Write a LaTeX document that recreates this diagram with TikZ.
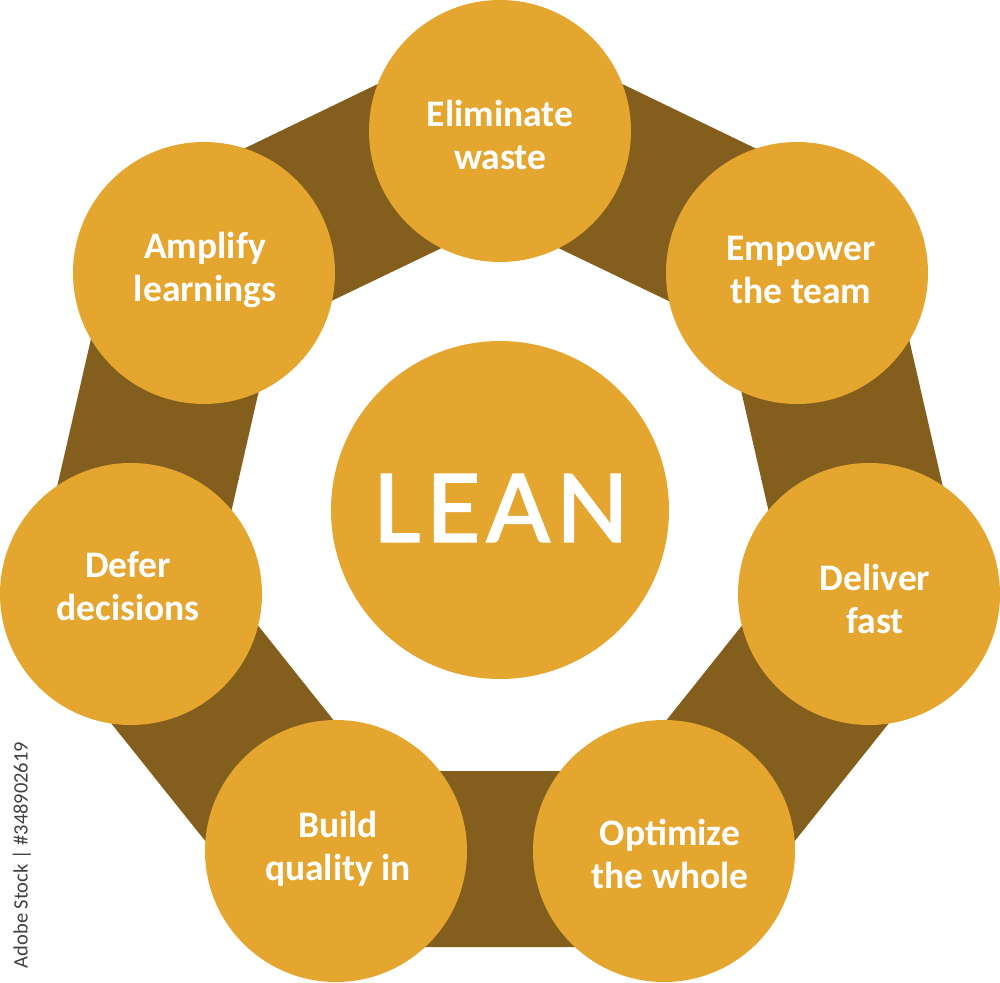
\documentclass[tikz,border=0pt]{standalone}
\usepackage{fontspec}
\setmainfont{Carlito}
\definecolor{gold}{HTML}{E5A630}
\definecolor{band}{HTML}{835E1C}
\tikzset{
  x=1pt,y=-1pt,
  disc/.style={circle,fill=gold,minimum size=262pt,inner sep=0pt},
  hub/.style={circle,fill=gold,minimum size=338pt,inner sep=0pt},
  caption/.style={text=white,align=center,font=\fontsize{37.5}{43}\selectfont\bfseries},
  hubtext/.style={text=white,font=\fontsize{105}{110}\selectfont\addfontfeature{LetterSpace=6,FakeBold=1.6}},
}
\begin{document}
\begin{tikzpicture}
\useasboundingbox (0,0) rectangle (1000,982);
\fill[band,even odd rule]
  (500,25) -- (879,208) -- (973,618) -- (710,947) -- (290,947) -- (27,618) -- (121,208) -- cycle
  (500,220) -- (727,329) -- (783,574) -- (626,771) -- (374,771) -- (217,574) -- (273,329) -- cycle;
\node[disc] (elim) at (500,131) {};
\node[disc] (emp) at (797,273) {};
\node[disc] (del) at (869,594) {};
\node[disc] (opt) at (664,851) {};
\node[disc] (bui) at (336,851) {};
\node[disc] (def) at (131,594) {};
\node[disc] (amp) at (204,273) {};
\node[hub] (lean) at (500,510) {};
\node[caption] (telim) at (500,135) {Eliminate\\waste};
\node[caption] (temp) at (801,270) {Empower\\the team};
\node[caption] (tdel) at (875,599) {Deliver\\fast};
\node[caption] (topt) at (670,854) {Optimize\\the whole};
\node[caption] (tbui) at (338,849) {Build\\quality in};
\node[caption] (tdef) at (128,586) {Defer\\decisions};
\node[caption] (tamp) at (205,270) {Amplify\\learnings};
\node[hubtext] (tlean) at (501,508) {\scalebox{1.05}[1]{LEAN}};
\node[rotate=90,font=\fontsize{20.5}{24}\selectfont,text=black!75] (stock) at (22,855) {Adobe Stock | \#348902619};
\end{tikzpicture}
\end{document}
